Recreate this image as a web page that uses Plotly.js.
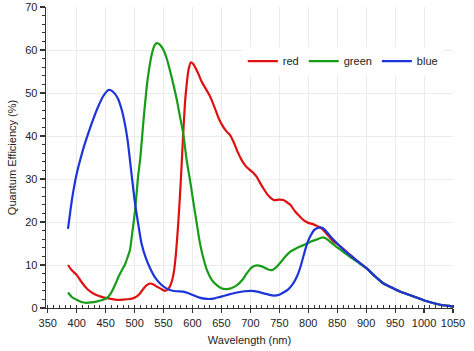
<!DOCTYPE html>
<html>
<head>
<meta charset="utf-8">
<script src="https://cdn.plot.ly/plotly-3.0.1.min.js"></script>
<style>html,body{margin:0;padding:0;background:#fff;}#chart{width:474px;height:351px;}</style>
</head>
<body>
<div id="chart"></div>
<script>
// Wavelength (nm) and quantum efficiency (%)
const redX = [385,392,400,408,417,425,434,443,452,460,469,480,492,498,504,510,516,521,527,532,538,545,552,557,561,565,568,571,574,577,580,583,587,590,593,597,601,605,610,616,622,628,633,640,645,651,658,665,672,678,685,692,700,706,711,718,724,730,736,741,750,757,763,769,777,786,793,800,808,815,822,829,836,843,850,860,872,886,901,915,930,945,959,974,988,1002,1017,1030,1043,1050];
const redY = [10,8.7,7.7,6.1,4.6,3.7,3.0,2.6,2.3,2.1,1.9,1.95,2.1,2.3,2.7,3.5,4.6,5.3,5.7,5.5,5.0,4.5,4.0,4.3,5.0,6.5,8.5,12,17,23,30,38,47.6,52,55.3,57.1,56.8,55.9,54.5,52.6,51.2,49.8,48.4,46,44.2,42.6,41.2,40.2,38.3,36.3,34.4,33,32,31.3,30.5,28.8,27.5,26.3,25.5,25.1,25.2,25.1,24.6,24,22.5,21.2,20.3,19.8,19.5,19.1,18.6,17.7,16.6,15.5,14.9,13.8,12.4,10.8,9.2,7.4,5.7,4.7,3.8,3.1,2.4,1.7,1.1,0.7,0.5,0.3];

const greenX = [385,392,400,408,417,425,434,443,452,459,466,472,478,483,488,492,496,501,506,510,515,521,525,530,535,539,544,550,556,561,567,573,578,584,590,596,601,607,613,619,625,633,642,650,657,667,677,686,694,703,711,717,723,730,737,744,751,760,769,778,786,795,804,814,824,830,838,845,852,862,872,886,901,915,930,945,959,974,988,1002,1017,1030,1043,1050];
const greenY = [3.6,2.5,1.9,1.4,1.2,1.3,1.5,1.8,2.3,3.4,5.3,7.2,8.8,10,11.8,13.5,17.5,22.8,30.5,35,43,51.5,55.5,59.2,61.2,61.6,61.2,60,57.8,55.3,52,48.4,44.8,40.6,34.4,29.5,25.1,20,15,11.5,8.8,6.6,5.3,4.6,4.4,4.6,5.3,6.5,8.1,9.5,9.9,9.8,9.5,9.0,8.8,9.4,10.4,11.9,13.1,13.8,14.3,14.8,15.4,15.9,16.4,16.2,15.4,14.6,13.9,12.9,11.9,10.6,9.2,7.4,5.7,4.7,3.8,3.1,2.4,1.7,1.1,0.7,0.5,0.3];

const blueX = [385,390,394,400,406,412,420,428,437,446,455,462,471,478,483,488,492,500,506,512,520,527,535,544,552,561,572,584,592,601,612,625,637,648,662,677,690,702,712,723,740,750,757,766,774,780,786,792,798,804,810,818,825,832,840,850,860,872,886,901,915,930,945,959,974,988,1002,1017,1030,1043,1050];
const blueY = [18.4,23.5,27,31.2,34.4,37.3,40.6,43.7,46.8,49.3,50.7,50.4,48.8,46,43,39,34.4,25.1,19.8,15,11.4,9.2,7.2,5.7,4.8,4.2,3.9,3.8,3.5,3.0,2.4,2.1,2.2,2.6,3.1,3.6,3.9,4.0,3.8,3.4,2.9,3.1,3.6,4.4,5.7,7.2,9.3,12.2,15,16.8,18.1,18.7,18.6,17.7,16.4,15,13.7,12.3,10.8,9.2,7.4,5.7,4.7,3.8,3.1,2.4,1.7,1.1,0.7,0.5,0.3];

const seriesNames = ['red','green','blue'];
const seriesColors = ['#e01010','#179c17','#1c34d9'];

const xs = [redX, greenX, blueX];
const ys = [redY, greenY, blueY];

const traces = seriesNames.map((n, i) => ({
  type: 'scatter', mode: 'lines', name: n,
  x: xs[i], y: ys[i],
  line: {color: seriesColors[i], width: 2.2, shape: 'spline', smoothing: 0.6}
}));

const fontFam = '"Liberation Sans", Arial, Helvetica, sans-serif';
const layout = {
  width: 474, height: 351,
  margin: {l: 46, r: 21, t: 7, b: 43},
  paper_bgcolor: '#fff', plot_bgcolor: '#fff',
  font: {family: fontFam, size: 11, color: '#222'},
  showlegend: true,
  legend: {
    orientation: 'h', x: 0.975, xanchor: 'right', y: 0.82, yanchor: 'middle',
    bgcolor: '#ffffff', font: {size: 11, color: '#222'}, tracegroupgap: 0,
    itemwidth: 30
  },
  xaxis: {
    range: [347, 1050], tick0: 350, dtick: 50,
    showgrid: true, gridcolor: '#ebebeb', gridwidth: 1,
    showline: true, linecolor: '#333', linewidth: 1.3,
    ticks: 'outside', ticklen: 4, tickcolor: '#333', tickwidth: 1.2,
    minor: {dtick: 10, ticks: 'inside', ticklen: 3, tickcolor: '#333', tickwidth: 1, showgrid: false},
    zeroline: false,
    tickfont: {size: 11, color: '#222'},
    title: {text: 'Wavelength (nm)', font: {size: 11, color: '#222'}, standoff: 8}
  },
  yaxis: {
    range: [0, 70], dtick: 10,
    showgrid: true, gridcolor: '#ebebeb', gridwidth: 1,
    showline: true, linecolor: '#333', linewidth: 1.3,
    ticks: 'outside', ticklen: 5, tickcolor: '#333', tickwidth: 1.2,
    minor: {dtick: 2, ticks: 'outside', ticklen: 3, tickcolor: '#333', tickwidth: 1, showgrid: false},
    zeroline: false,
    tickfont: {size: 11, color: '#222'},
    title: {text: 'Quantum Efficiency (%)', font: {size: 11, color: '#222'}, standoff: 6}
  }
};

Plotly.newPlot('chart', traces, layout, {displayModeBar: false, staticPlot: true});
</script>
</body>
</html>
